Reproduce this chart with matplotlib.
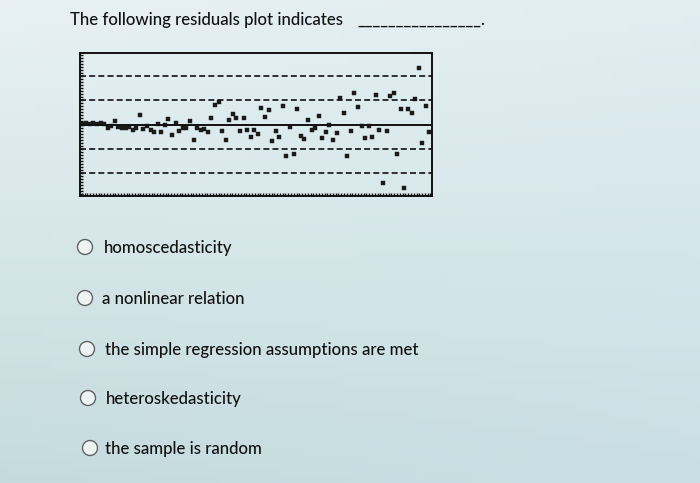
import numpy as np
import matplotlib
matplotlib.use("Agg")
import matplotlib.pyplot as plt
from matplotlib.patches import Circle
from matplotlib.ticker import MultipleLocator

# ---- data ----
residuals = [0.03, 0.06, 0.03, 0.06, 0.03, 0.06, 0.04, -0.15, -0.06, 0.14,
             -0.11, -0.15, -0.15, -0.11, -0.21, -0.14, 0.39, -0.18, -0.07, -0.22,
             -0.32, 0.03, -0.33, 0.00, 0.22, -0.43, 0.07, -0.25, -0.14, -0.14,
             0.15, -0.63, -0.14, -0.22, -0.19, -0.29, 0.25, 0.79, 0.91, -0.25,
             -0.63, 0.19, 0.44, 0.25, -0.28, 0.25, -0.22, -0.51, -0.22, -0.41,
             0.69, 0.33, 0.58, -0.70, -0.28, -0.52, 0.77, -1.30, -0.11, -1.21,
             0.62, -0.47, -0.59, 0.17, -0.22, -0.14, 0.37, -0.57, -0.32, -0.01,
             -0.63, -0.37, 1.10, 0.48, -1.30, -0.26, 1.31, 0.72, -0.08, -0.57,
             -0.08, -0.52, 1.23, -0.22, -2.43, -0.28, 1.17, 1.30, -1.21, 0.62,
             -2.62, 0.62, 0.47, 1.06, 2.32, -0.76, 0.76, -0.29]
order = list(range(1, len(residuals) + 1))
ref_lines = [-2, -1, 1, 2]

title = "The following residuals plot indicates"
blank = "________________."
options = ["homoscedasticity",
           "a nonlinear relation",
           "the simple regression assumptions are met",
           "heteroskedasticity",
           "the sample is random"]

W, H = 700, 483
fig = plt.figure(figsize=(W / 100, H / 100), dpi=100)

# background (screen photo tint)
bg = fig.add_axes([0, 0, 1, 1], zorder=0)
gy = np.linspace(0, 1, 60)[:, None]
gx = np.linspace(0, 1, 80)[None, :]
top = np.array([0.91, 0.945, 0.955])
bot = np.array([0.77, 0.86, 0.87])
right = np.array([0.83, 0.905, 0.935])
t = gy[..., None]
s = gx[..., None]
img = top * (1 - t) + bot * t
img = img * (1 - 0.35 * s) + right * 0.35 * s
bg.imshow(np.clip(img, 0, 1), aspect="auto", extent=[0, 1, 0, 1], origin="upper")
bg.set_axis_off()

# residual plot
ax = fig.add_axes([80 / W, 1 - 196 / H, 352 / W, 143 / H], zorder=2)
ax.patch.set_alpha(0)
ax.plot(order, residuals, linestyle="none", marker="s", ms=2.3,
        color="#1a1a1a", mec="#1a1a1a", mew=0.3)
ax.axhline(0, color="#111111", lw=1.4)
for v in ref_lines:
    ax.axhline(v, color="#111111", lw=1.2, dashes=(3.6, 1.9))
ax.set_xlim(0.25, len(residuals) + 0.7)
ax.set_ylim(-2.95, 2.95)
for sp in ax.spines.values():
    sp.set_linewidth(1.4)
    sp.set_color("#111111")
ax.xaxis.set_major_locator(MultipleLocator(0.78))
ax.yaxis.set_major_locator(MultipleLocator(0.125))
ax.tick_params(axis="both", direction="in", length=2.2, width=1.0,
               color="#111111", labelbottom=False, labelleft=False)
ax.tick_params(axis="x", bottom=True, top=False)
ax.tick_params(axis="y", left=True, right=False)

# text overlay
ov = fig.add_axes([0, 0, 1, 1], zorder=3)
ov.set_xlim(0, W)
ov.set_ylim(H, 0)
ov.set_axis_off()
ov.patch.set_alpha(0)
font = "Lato"
fs = 12.1
wt = 500
ov.text(70, 25, title, fontsize=fs, family=font, color="#111111",
        va="baseline", ha="left", fontweight=wt)
ov.text(358, 25, blank, fontsize=fs, family=font, color="#111111",
        va="baseline", ha="left", fontweight=wt)

circ_x = [85, 85, 87, 88, 90]
circ_y = [247, 298, 349, 398, 448]
text_x = [104, 102, 105, 106, 105]
for cx, cy, tx, lab in zip(circ_x, circ_y, text_x, options):
    ov.add_patch(Circle((cx, cy), 7.5, facecolor="#eef3f3", edgecolor="#5f6363",
                        lw=1.0))
    ov.text(tx, cy + 1, lab, fontsize=fs, family=font, color="#111111",
            va="center", ha="left", fontweight=wt)

fig.savefig("out.png", dpi=100)
